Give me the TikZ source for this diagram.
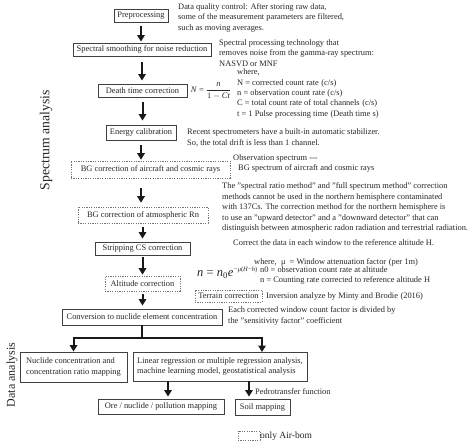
\documentclass[tikz,border=0pt]{standalone}
\usepackage{amsmath}
\usepackage{fontspec}
\setmainfont{Liberation Serif}
\usetikzlibrary{arrows.meta}
\newcommand{\fwl}{\hspace{2.5pt}(}
\newcommand{\fwr}{)\hspace{2.5pt}}
\begin{document}
\begin{tikzpicture}[x=1pt,y=-1pt,
  box/.style={draw=black!75, line width=0.9pt, inner sep=0pt, font=\fontsize{8.4}{10.5}\selectfont, text=black!85},
  dbox/.style={box, draw=black!55, line width=0.7pt, dash pattern=on 1.2pt off 1.2pt},
  txt/.style={anchor=base west, inner sep=0pt, align=left, font=\fontsize{8.4}{10.5}\selectfont, text=black!85},
  arr/.style={line width=2pt, draw=black!90, -{Triangle[width=7.5pt,length=6.5pt]}},
  ln/.style={line width=2pt, draw=black!90},
  side/.style={rotate=90, inner sep=0pt, text=black!85}
]
\useasboundingbox (0,0) rectangle (474,444);
\fill[white] (0,0) rectangle (474,444);

% main chain boxes
\node[box, minimum width=54pt, minimum height=13pt] (pre) at (141,15.5) {Preprocessing};
\node[box, minimum width=138pt, minimum height=13pt] (smooth) at (142,49.5) {Spectral smoothing for noise reduction};
\node[box, minimum width=89pt, minimum height=13pt] (death) at (142.5,90.5) {Death time correction};
\node[box, minimum width=70pt, minimum height=15pt] (energy) at (141,132.5) {Energy calibration};
\node[dbox, minimum width=159pt, minimum height=17pt] (bgac) at (150.5,169.5) {BG correction of aircraft and cosmic rays};
\node[dbox, minimum width=130pt, minimum height=16pt] (bgrn) at (143,215) {BG correction of atmospheric Rn};
\node[box, minimum width=95pt, minimum height=13pt] (strip) at (142.5,248.5) {Stripping CS correction};
\node[dbox, minimum width=75pt, minimum height=15pt] (alt) at (142.5,283.5) {Altitude correction};
\node[dbox, minimum width=67pt, minimum height=12pt] (terrain) at (228.5,296) {Terrain correction};
\node[box, minimum width=160pt, minimum height=16pt] (conv) at (142,317) {Conversion to nuclide element concentration};

% data analysis boxes
\node[box, minimum width=107pt, minimum height=30pt, align=left] (nuc) at (73.5,367) {Nuclide concentration and\\concentration ratio mapping};
\node[box, minimum width=174pt, minimum height=29pt, align=left] (lin) at (220,366.5) {Linear regression or multiple regression analysis,\\machine learning model, geostatistical analysis};
\node[box, minimum width=126pt, minimum height=15pt] (ore) at (161,406.5) {Ore / nuclide / pollution mapping};
\node[box, minimum width=55pt, minimum height=16pt] (soil) at (262.5,407) {Soil mapping};
\node[dbox, minimum width=22pt, minimum height=9pt] (leg) at (249,435.5) {};

% arrows of the chain
\draw[arr, shorten <=4pt, shorten >=1pt] (pre.south) -- (pre.south |- smooth.north);
\draw[arr, shorten <=6pt, shorten >=3pt] (smooth.south) -- (smooth.south |- death.north);
\draw[arr, shorten <=5pt, shorten >=4pt] (death.south) -- (death.south |- energy.north);
\draw[arr, shorten <=5pt, shorten >=1pt] (energy.south) -- (energy.south |- bgac.north);
\draw[arr, shorten <=10pt, shorten >=4pt] (energy.south |- bgac.south) -- (energy.south |- bgrn.north);
\draw[arr, shorten <=4pt, shorten >=3pt] (bgrn.south -| strip.north) -- (strip.north);
\draw[arr, shorten <=2pt, shorten >=1pt] (strip.south) -- (strip.south |- alt.north);
\draw[arr, shorten <=3pt, shorten >=3pt] (alt.south) -- (alt.south |- conv.north);

% branching
\coordinate (j) at (142,338);
\coordinate (linin) at (262,352);
\draw[ln] (conv.south) -- (j);
\draw[arr] (j) -| (nuc.north);
\draw[arr] (j) -| (linin);
\coordinate (lo) at (168,381);
\coordinate (ls) at (249,381);
\draw[arr, shorten >=2pt] (lo) -- (lo |- ore.north);
\draw[arr, shorten >=2pt] (ls) -- (ls |- soil.north);

% side labels
\node[side, font=\fontsize{13.7}{14}\selectfont] (sa) at (46,140) {Spectrum analysis};
\node[side, font=\fontsize{12}{13}\selectfont] (da) at (12,375) {Data analysis};

% annotations (anchor = baseline of the last line)
\node[txt] (t1) at (178,30.5) {Data quality control: After storing raw data,\\some of the measurement parameters are filtered,\\such as moving averages.};
\node[txt] (t2) at (219,66.5) {Spectral processing technology that\\removes noise from the gamma-ray spectrum:\\NASVD or MNF};
\node[inner sep=0pt, text=black!85, font=\fontsize{8.5}{9}\selectfont] (f1) at (211,91) {\textit{N} = $\dfrac{\textit{n}}{1-\textit{Ct}}$};
\node[txt] (t3) at (237,116.5) {where,\\N = corrected count rate\fwl c/s\fwr\\n = observation count rate\fwl c/s\fwr\\C = total count rate of total channels\fwl c/s\fwr\\t = 1 Pulse processing time\fwl Death time s\fwr};
\node[txt] (t4) at (187,145) {Recent spectrometers have a built-in automatic stabilizer.\\So, the total drift is less than 1 channel.};
\node[txt] (t5) at (233,160.5) {Observation spectrum -{}-{}-};
\node[txt] (t6) at (238,170.5) {BG spectrum of aircraft and cosmic rays};
\node[txt] (t7) at (222,230.5) {The "spectral ratio method" and "full spectrum method" correction\\methods cannot be used in the northern hemisphere contaminated\\with 137Cs. The correction method for the northern hemisphere is\\to use an "upward detector" and a "downward detector" that can\\distinguish between atmospheric radon radiation and terrestrial radiation.};
\node[txt] (t8) at (233,245.5) {Correct the data in each window to the reference altitude H.};
\node[inner sep=0pt, text=black!85, font=\fontsize{12.5}{13}\selectfont, anchor=west] (f2) at (197,273) {\textit{n} = \textit{n}\textsubscript{0}\textit{e}\raisebox{5pt}{\fontsize{6.5}{7}\selectfont\textit{−μ}(\textit{H}−\textit{h})}};
\node[txt] (t9) at (254,264.5) {where,~~μ~~= Window attenuation factor\fwl per 1m\fwr};
\node[txt] (t10) at (260,282.5) {n0 = observation count rate at altitude\\n = Counting rate corrected to reference altitude H};
\node[txt] (t11) at (266,298.5) {Inversion analyze by Minty and Brodie\fwl 2016\fwr};
\node[txt] (t12) at (228,323) {Each corrected window count factor is divided by\\the "sensitivity factor" coefficient};
\node[txt] (t13) at (255,394.5) {Pedrotransfer function};
\node[txt, font=\fontsize{9.5}{10}\selectfont, anchor=west] (t14) at (260,436) {only Air-bom};
\end{tikzpicture}
\end{document}
